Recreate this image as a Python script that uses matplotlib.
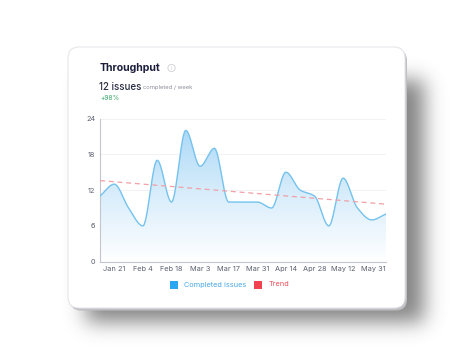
import matplotlib
matplotlib.use("Agg")
import matplotlib.pyplot as plt
import numpy as np
from matplotlib.patches import FancyBboxPatch, Rectangle, Circle
from matplotlib.colors import LinearSegmentedColormap

# weekly completed issues (Jan 14 .. May 31)
weeks = ["Jan 14", "Jan 21", "Jan 28", "Feb 4", "Feb 11", "Feb 18", "Feb 25",
         "Mar 3", "Mar 10", "Mar 17", "Mar 24", "Mar 31", "Apr 7", "Apr 14",
         "Apr 21", "Apr 28", "May 5", "May 12", "May 19", "May 26", "May 31"]
completed = [11, 13, 9, 6, 17, 10, 22, 16, 19, 10, 10, 10, 9, 15, 12, 11, 6, 14, 9, 7, 8]
tick_labels = ["Jan 21", "Feb 4", "Feb 18", "Mar 3", "Mar 17", "Mar 31",
               "Apr 14", "Apr 28", "May 12", "May 31"]
y_ticks = [0, 6, 12, 18, 24]

W, H = 474, 355
FONT = ["Inter", "DejaVu Sans"]
plt.rcParams["font.family"] = FONT


def monotone_curve(y, n=30):
    """Fritsch-Carlson monotone cubic, for drawing a smooth line through the points"""
    y = np.asarray(y, float)
    x = np.arange(len(y), dtype=float)
    d = np.diff(y)
    m = np.zeros_like(y)
    m[0], m[-1] = d[0], d[-1]
    for i in range(1, len(y) - 1):
        if d[i - 1] * d[i] > 0:
            m[i] = 2 / (1 / d[i - 1] + 1 / d[i])
    xs, ys = [], []
    for i in range(len(y) - 1):
        t = np.linspace(0, 1, n, endpoint=False)
        h00 = 2 * t**3 - 3 * t**2 + 1
        h10 = t**3 - 2 * t**2 + t
        h01 = -2 * t**3 + 3 * t**2
        h11 = t**3 - t**2
        xs.append(x[i] + t)
        ys.append(h00 * y[i] + h10 * m[i] + h01 * y[i + 1] + h11 * m[i + 1])
    xs.append([x[-1]])
    ys.append([y[-1]])
    return np.concatenate(xs), np.concatenate(ys)


fig = plt.figure(figsize=(W / 100, H / 100), dpi=100)
fig.patch.set_facecolor("white")

# background layer in pixel coords: shadow + card
bg = fig.add_axes([0, 0, 1, 1])
bg.set_xlim(0, W)
bg.set_ylim(H, 0)
bg.axis("off")

mask = np.zeros((H, W))
mask[80:322, 86:424] = 1.0
k = np.exp(-0.5 * (np.arange(-36, 37) / 10.0) ** 2)
k /= k.sum()
blur = np.apply_along_axis(lambda r: np.convolve(r, k, mode="same"), 1, mask)
blur = np.apply_along_axis(lambda c: np.convolve(c, k, mode="same"), 0, blur)
shadow = np.zeros((H, W, 4))
shadow[..., :3] = 0.22
shadow[..., 3] = blur * 0.62
bg.imshow(shadow, extent=(0, W, H, 0), interpolation="bilinear", zorder=0)

bg.add_patch(FancyBboxPatch((70, 49.5), 337, 261, boxstyle="round,pad=0,rounding_size=11",
                            fc="#bfbfc3", ec="none", zorder=1))
bg.add_patch(FancyBboxPatch((68, 47), 337, 261, boxstyle="round,pad=0,rounding_size=11",
                            fc="white", ec="#e6e6ea", lw=0.8, zorder=2))

# header texts
bg.text(99.5, 68, "Throughput", fontsize=7.6, fontweight="bold", color="#1b1f3b",
        va="center", ha="left", zorder=3)
bg.add_patch(Circle((171.5, 68), 3.6, fc="none", ec="#d4d4da", lw=0.7, zorder=3))
bg.text(171.5, 68.3, "i", fontsize=4, color="#c8c8d0", ha="center", va="center", zorder=3)
bg.text(99.5, 86.5, "12 issues", fontsize=7.0, fontweight="medium", color="#262b40",
        va="center", ha="left", zorder=3)
bg.text(143.5, 87.5, "completed / week", fontsize=4.2, color="#8a8d99", va="center",
        ha="left", zorder=3)
bg.text(100.5, 98.5, "+98%", fontsize=4.8, color="#3aa86b", va="center", ha="left", zorder=3)

# legend
bg.add_patch(Rectangle((170.5, 280.5), 8, 8, fc="#2aa6f2", ec="none", zorder=3))
bg.text(184.5, 284.5, "Completed issues", fontsize=5.3, color="#4aa8e6", va="center",
        ha="left", zorder=3)
bg.add_patch(Rectangle((254.5, 280.5), 8, 8, fc="#f2414f", ec="none", zorder=3))
bg.text(269, 284.5, "Trend", fontsize=5.3, color="#ea4f5b", va="center", ha="left", zorder=3)

# chart
ax = fig.add_axes([100 / W, (H - 261.7) / H, 286 / W, 143.2 / H])
ax.set_zorder(5)
ax.patch.set_alpha(0)

x = np.arange(len(completed))
cx, cy = monotone_curve(completed)

cmap = LinearSegmentedColormap.from_list("fill", ["#ffffff", "#d6ecfb", "#a5d6f7"])
grad = np.linspace(0, 1, 256).reshape(-1, 1)
im = ax.imshow(grad, extent=(0, x[-1], 0, 24), origin="lower", aspect="auto",
               cmap=cmap, zorder=1)
poly = ax.fill_between(cx, 0, cy, fc="none", ec="none")
im.set_clip_path(poly.get_paths()[0], transform=ax.transData)
ax.plot(cx, cy, color="#74c2ee", lw=1.0, zorder=3)

coef = np.polyfit(x, completed, 1)
ax.plot(x, np.polyval(coef, x), color="#f0a0a6", lw=0.9, dashes=(4, 3), zorder=4)

ax.set_xlim(0, x[-1])
ax.set_ylim(0, 24)
ax.set_yticks(y_ticks)
ax.set_yticklabels([str(v) for v in y_ticks])
tick_pos = [weeks.index(t) for t in tick_labels]
ax.set_xticks(tick_pos)
ax.set_xticklabels(tick_labels)
ax.get_xticklabels()[-1].set_ha("right")
ax.tick_params(length=0, labelsize=5.3, labelcolor="#5c6070", pad=3)
ax.tick_params(axis="y", labelsize=5.3, pad=3.5)
for y in y_ticks[1:]:
    ax.axhline(y, color="#f0f0f4", lw=0.6, zorder=0)
for s in ("top", "right"):
    ax.spines[s].set_visible(False)
for s in ("left", "bottom"):
    ax.spines[s].set_color("#c4c6cf")
    ax.spines[s].set_linewidth(0.8)

fig.savefig("out.png", dpi=100)
